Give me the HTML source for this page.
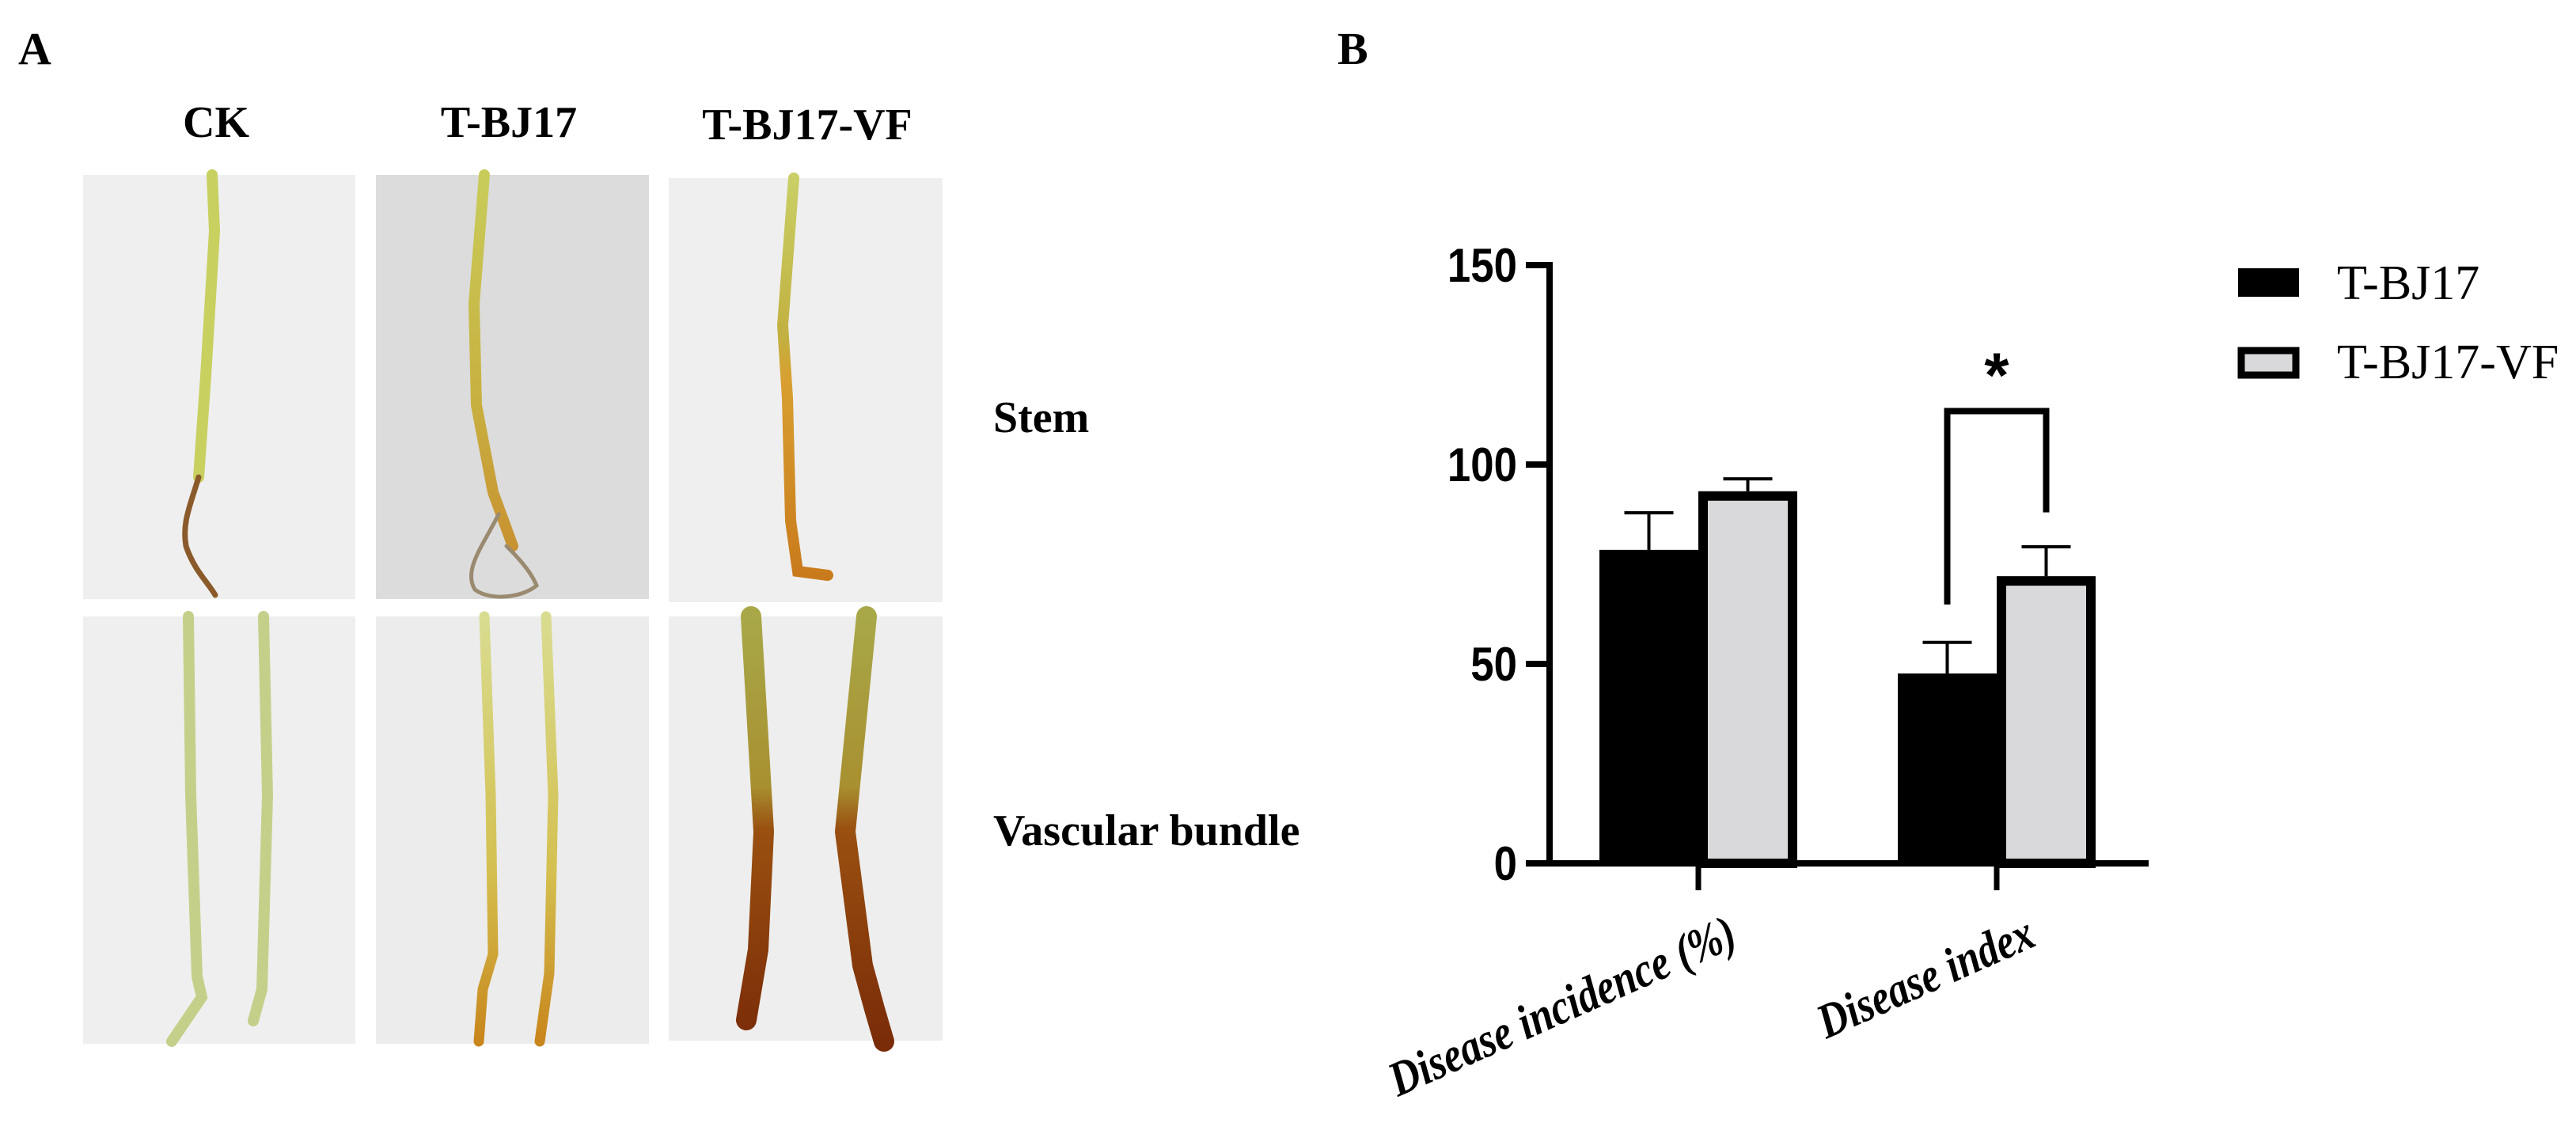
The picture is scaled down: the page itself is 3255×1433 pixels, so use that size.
<!DOCTYPE html>
<html><head><meta charset="utf-8"><style>
html,body{margin:0;padding:0;background:#fff;}
svg{display:block;}
</style></head><body>
<svg id="fig" width="3255" height="1433" viewBox="0 0 3255 1433" xmlns="http://www.w3.org/2000/svg">
<defs>
<linearGradient id="gVF1" gradientUnits="userSpaceOnUse" x1="0" y1="225" x2="0" y2="730"><stop offset="0" stop-color="#c9cf66"/><stop offset="0.4" stop-color="#c2b040"/><stop offset="0.5" stop-color="#d8a030"/><stop offset="1" stop-color="#c97a1c"/></linearGradient>
<linearGradient id="gBJ1" gradientUnits="userSpaceOnUse" x1="0" y1="220" x2="0" y2="700"><stop offset="0" stop-color="#c8cc5a"/><stop offset="0.6" stop-color="#c8b040"/><stop offset="1" stop-color="#c89030"/></linearGradient>
<linearGradient id="gBJ2" gradientUnits="userSpaceOnUse" x1="0" y1="779" x2="0" y2="1316"><stop offset="0" stop-color="#d8dc90"/><stop offset="0.6" stop-color="#d4c050"/><stop offset="1" stop-color="#c8861c"/></linearGradient>
<linearGradient id="gVF2" gradientUnits="userSpaceOnUse" x1="0" y1="779" x2="0" y2="1316"><stop offset="0" stop-color="#a8a848"/><stop offset="0.4" stop-color="#a89030"/><stop offset="0.5" stop-color="#9a5010"/><stop offset="1" stop-color="#7a2c08"/></linearGradient>
</defs>

<g font-family="'Liberation Serif', serif" font-weight="bold">
<text x="23" y="81" font-size="58">A</text>
<text x="273" y="173" font-size="56" text-anchor="middle">CK</text>
<text x="643" y="173" font-size="56" text-anchor="middle">T-BJ17</text>
<text x="1020" y="176" font-size="56" text-anchor="middle">T-BJ17-VF</text>
<text x="1255" y="546" font-size="56">Stem</text>
<text x="1255" y="1068" font-size="56">Vascular bundle</text>

<rect x="105" y="221" width="344" height="536" fill="#efefef"/>
<rect x="475" y="221" width="345" height="536" fill="#dcdcdc"/>
<rect x="845" y="225" width="346" height="536" fill="#efefef"/>
<rect x="105" y="779" width="344" height="540" fill="#efefef"/>
<rect x="475" y="779" width="345" height="540" fill="#ececec"/>
<rect x="845" y="779" width="346" height="536" fill="#eeeeee"/>

<g fill="none" stroke-linecap="round">
<path d="M268 221 L271 292 L260 475 L251 603" stroke="#c8d060" stroke-width="14"/>
<path d="M251 603 C240 640 230 660 235 690 C245 720 262 735 272 752" stroke="#8a5a2a" stroke-width="7"/>
<path d="M612 221 L599 384 L602 512 L623 622 L648 690" stroke="url(#gBJ1)" stroke-width="14"/>
<path d="M630 650 C610 690 585 720 600 745 C620 760 660 755 678 740 C670 720 650 700 640 690" stroke="#9a8a70" stroke-width="5"/>
<path d="M1003 225 L989 411 L995 503 L999 658 L1008 722 L1046 727" stroke="url(#gVF1)" stroke-width="14"/>
<path d="M238 779 L241 1005 L249 1234 L255 1260 L217 1316" stroke="#c4d08a" stroke-width="14"/>
<path d="M333 779 L338 1005 L331 1250 L320 1290" stroke="#c4d08a" stroke-width="14"/>
<path d="M612 779 L620 1005 L623 1206 L610 1250 L605 1316" stroke="url(#gBJ2)" stroke-width="13"/>
<path d="M690 779 L699 1005 L694 1230 L682 1316" stroke="url(#gBJ2)" stroke-width="13"/>
<path d="M949 779 L965 1051 L958 1200 L943 1289" stroke="url(#gVF2)" stroke-width="26"/>
<path d="M1095 779 L1068 1051 L1090 1220 L1105 1275 L1117 1316" stroke="url(#gVF2)" stroke-width="26"/>
</g>
</g>

<g>
<text x="1690" y="81" font-size="58" font-family="'Liberation Serif', serif" font-weight="bold">B</text>
<g id="chart"></g>
</g>
</svg>
<script>
const categories = ["Disease incidence (%)", "Disease index"];
const seriesNames = ["T-BJ17", "T-BJ17-VF"];
const tbj17Values = [78.6, 47.6];
const tbj17Errors = [9.3, 7.8];
const vfValues = [93.3, 72.0];
const vfErrors = [3.1, 7.4];
const yTicks = [0, 50, 100, 150];
const sigLabels = ["", "*"];

const NS = "http://www.w3.org/2000/svg";
const chart = document.getElementById("chart");
const Y0 = 1091, PX = 5.04, AXX = 1958, GX0 = 2146, GSTEP = 377, BW = 125;
function yScale(v){ return Y0 - v*PX; }
function xCenter(i){ return GX0 + i*GSTEP; }
function mk(tag, attrs){ const e=document.createElementNS(NS,tag); for(const k in attrs) e.setAttribute(k,attrs[k]); chart.appendChild(e); return e; }

for (let i=0;i<categories.length;i++){
  const c = xCenter(i);
  const b = mk("rect",{x:c-BW,y:yScale(tbj17Values[i]),width:BW,height:Y0-yScale(tbj17Values[i]),fill:"#000"});
  
  
  const g = mk("rect",{x:c+6,y:yScale(vfValues[i])+6,width:BW-12,height:Y0-yScale(vfValues[i])-6,fill:"#d9d9db",stroke:"#000","stroke-width":12});
  
  
  const e1x = c - BW/2;
  const e1 = mk("path",{d:`M${e1x} ${yScale(tbj17Values[i])} V${yScale(tbj17Values[i]+tbj17Errors[i])} M${e1x-31} ${yScale(tbj17Values[i]+tbj17Errors[i])} H${e1x+31}`,stroke:"#000","stroke-width":4,fill:"none"});
  
  
  const e2x = c + BW/2;
  const e2 = mk("path",{d:`M${e2x} ${yScale(vfValues[i])} V${yScale(vfValues[i]+vfErrors[i])} M${e2x-31} ${yScale(vfValues[i]+vfErrors[i])} H${e2x+31}`,stroke:"#000","stroke-width":4,fill:"none"});
  
  
}

const ya = mk("line",{x1:AXX,y1:yScale(150)-4,x2:AXX,y2:Y0+4,stroke:"#000","stroke-width":8});


const xa = mk("line",{x1:AXX-30,y1:Y0,x2:2715,y2:Y0,stroke:"#000","stroke-width":8});


for (const t of yTicks){
  const tk = mk("line",{x1:AXX-30,y1:yScale(t),x2:AXX,y2:yScale(t),stroke:"#000","stroke-width":8});
  
  
  const tl = mk("text",{transform:`translate(1917 ${yScale(t)+21}) scale(0.88 1)`,"text-anchor":"end","font-size":60,"font-weight":"bold","font-family":"'Liberation Sans', sans-serif"});
  tl.textContent = String(t);
  
  
}
for (let i=0;i<categories.length;i++){
  const c = xCenter(i);
  const tk = mk("line",{x1:c,y1:Y0,x2:c,y2:Y0+34,stroke:"#000","stroke-width":7});
  
  
  const len = categories[i].length * 22.5;
  const lb = mk("text",{transform:`translate(${c+52} ${Y0+103}) rotate(-24)`,x:-len,y:0,textLength:len,lengthAdjust:"spacingAndGlyphs","font-size":62,"font-weight":"bold","font-style":"italic","font-family":"'Liberation Serif', serif"});
  lb.textContent = categories[i];
  
  
}

for (let i=0;i<categories.length;i++){
  if (!sigLabels[i]) continue;
  const c = xCenter(i);
  const lx = c - BW/2, rx = c + BW/2;
  const top = yScale(Math.max(tbj17Values[i]+tbj17Errors[i], vfValues[i]+vfErrors[i]) + 34);
  const br = mk("path",{d:`M${lx} ${yScale(tbj17Values[i]+tbj17Errors[i]+9.5)} V${top} H${rx} V${yScale(vfValues[i]+vfErrors[i]+8.6)}`,stroke:"#000","stroke-width":8,fill:"none"});
  
  
  const st = mk("text",{x:c,y:top-18,"text-anchor":"middle","font-size":80,"font-weight":"bold","font-family":"'Liberation Sans', sans-serif"});
  st.textContent = sigLabels[i];
  
  
}

const l1 = mk("rect",{x:2828,y:339,width:77,height:36,fill:"#000"});


const l2 = mk("rect",{x:2832,y:443,width:69,height:31,fill:"#d9d9db",stroke:"#000","stroke-width":9});


const lt1 = mk("text",{x:2953,y:378,"font-size":62,"font-family":"'Liberation Serif', serif"});
lt1.textContent = seriesNames[0];


const lt2 = mk("text",{x:2953,y:478,"font-size":62,"font-family":"'Liberation Serif', serif"});
lt2.textContent = seriesNames[1];


</script>
</body></html>
